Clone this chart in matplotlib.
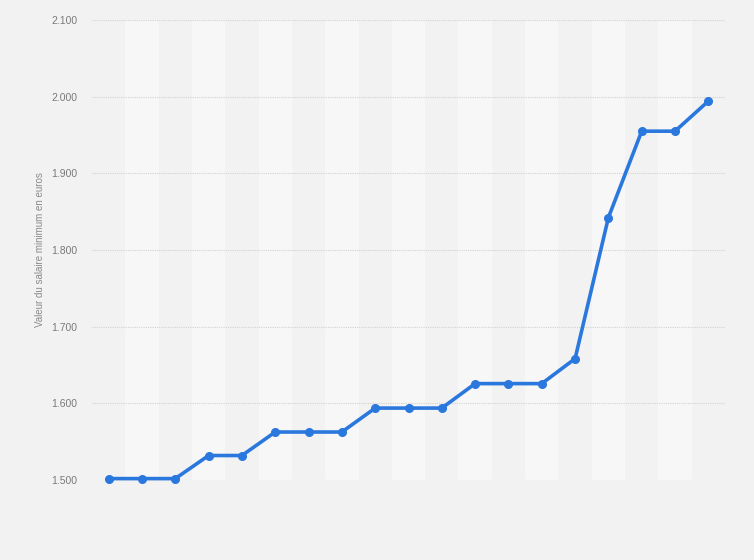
import numpy as np
import matplotlib
matplotlib.use("Agg")
import matplotlib.pyplot as plt
from matplotlib.ticker import FuncFormatter

plt.rcParams['font.family'] = ['Liberation Sans', 'DejaVu Sans']

# Minimum wage values (euros), one point per period
values = [1501.82, 1501.82, 1501.82, 1531.93, 1531.93,
          1562.59, 1562.59, 1562.59, 1593.81, 1593.81, 1593.81,
          1625.72, 1625.72, 1625.72, 1658.23, 1842.28,
          1954.99, 1954.99, 1994.18]
y_ticks = [1500, 1600, 1700, 1800, 1900, 2000, 2100]
y_label = "Valeur du salaire minimum en euros"

bg = "#f2f2f2"
band = "#f7f7f7"
blue = "#2a78de"

fig = plt.figure(figsize=(7.54, 5.60), dpi=100, facecolor=bg)
ax = fig.add_axes([92 / 754, 1 - 480 / 560, 633 / 754, 460 / 560])
ax.set_facecolor(bg)

x = np.arange(len(values))

# alternating column bands
for i in x:
    if i % 2 == 1:
        ax.axvspan(i - 0.5, i + 0.5, color=band, zorder=0, lw=0)

ax.set_xlim(-0.5, len(values) - 0.5)
ax.set_ylim(1500, 2100)
ax.set_yticks(y_ticks)
ax.yaxis.set_major_formatter(FuncFormatter(lambda v, p: f"{int(v):,}".replace(",", ".")))
ax.grid(axis="y", color="#d2d2d2", linestyle=(0, (1, 1)), linewidth=0.8, zorder=1)
ax.set_axisbelow(True)

ax.plot(x, values, color=blue, linewidth=2.6, marker="o", markersize=5.5,
        zorder=3, clip_on=False, solid_capstyle="round")

ax.set_xticks([])
ax.tick_params(axis="y", length=0, pad=10.5, labelsize=7.5, labelcolor="#7a7a7a")
for s in ax.spines.values():
    s.set_visible(False)

fig.text(40 / 754, 1 - 250 / 560, y_label, rotation=90, ha="center", va="center",
         fontsize=7, color="#8a8a8a")

fig.savefig("out.png", dpi=100, facecolor=bg)
